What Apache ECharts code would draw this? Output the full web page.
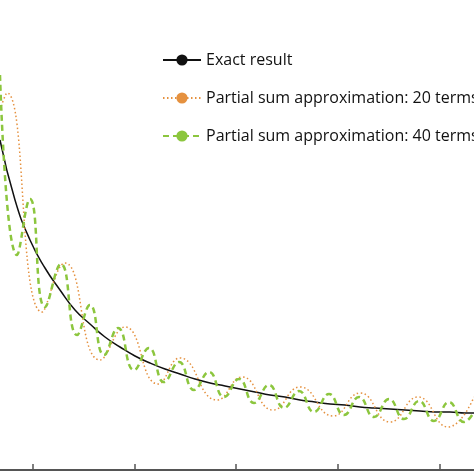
<!DOCTYPE html>
<html>
<head>
<meta charset="utf-8">
<script src="https://cdn.jsdelivr.net/npm/echarts@6/dist/echarts.min.js"></script>
<style>html,body{margin:0;padding:0;background:#fff}#chart{width:474px;height:474px}</style>
</head>
<body>
<div id="chart"></div>
<script>
var exactX = [0, 15, 30, 45, 60, 75, 90, 105, 120, 135, 150, 165, 180, 195, 210, 225, 240, 255, 270, 285, 300, 315, 330, 345, 360, 375, 390, 405, 420, 435, 450, 465, 474];
var exactY = [140, 200, 240, 268, 290, 310, 324, 337, 347, 356, 363, 369, 374, 379, 383, 386, 389, 392, 395, 397, 400, 402, 404, 405, 407, 408, 409, 410, 411, 412, 412, 413, 413];

var sum20X = [0, 7, 42, 65, 100, 125, 158, 180, 217, 242, 273, 300, 333, 360, 390, 418, 448, 474];
var sum20Y = [110, 93, 312, 263, 360, 327, 384, 358, 400, 377, 410, 387, 416, 393, 422, 397, 427, 397];

var sum40X = [0, 17, 30, 45, 61, 77, 90, 104, 118, 134, 149, 164, 179, 194, 209, 224, 239, 254, 269, 284, 299, 314, 329, 344, 359, 374, 389, 404, 419, 434, 449, 464, 474];
var sum40Y = [75, 255, 199, 307, 264, 335, 305, 355, 328, 370, 348, 382, 362, 390, 372, 397, 379, 403, 385, 408, 391, 412, 394, 415, 397, 417, 399, 419, 401, 421, 402, 422, 412];

var tickPos = [33, 135, 236, 338, 440];

function pairs(xs, ys) { return xs.map(function (x, i) { return [x, ys[i]]; }); }

var chart = echarts.init(document.getElementById('chart'));
chart.setOption({
  animation: false,
  grid: { left: 0, right: 0, top: 0, bottom: 4 },
  legend: {
    orient: 'vertical', left: 157, top: 47, itemGap: 22,
    itemWidth: 38, itemHeight: 14,
    textStyle: { fontFamily: 'Open Sans', fontSize: 16, color: '#111' },
    data: ['Exact result', 'Partial sum approximation: 20 terms', 'Partial sum approximation: 40 terms']
  },
  xAxis: {
    type: 'value', min: 0, max: 474, position: 'bottom',
    splitLine: { show: false },
    axisLabel: { show: false },
    axisLine: { onZero: false, lineStyle: { color: '#555', width: 2 } },
    axisTick: { inside: true, length: 6, customValues: tickPos, lineStyle: { color: '#555', width: 1.5 } }
  },
  yAxis: { type: 'value', min: 0, max: 470, inverse: true, show: false },
  series: [
    { name: 'Exact result', type: 'line', smooth: true, symbol: 'none', data: pairs(exactX, exactY),
      lineStyle: { color: '#111', width: 1.5 }, itemStyle: { color: '#111' }, z: 3 },
    { name: 'Partial sum approximation: 20 terms', type: 'line', smooth: true, symbol: 'none', data: pairs(sum20X, sum20Y),
      lineStyle: { color: '#E5913F', width: 1.5, type: [1.5, 2.5] }, itemStyle: { color: '#E5913F' } },
    { name: 'Partial sum approximation: 40 terms', type: 'line', smooth: true, symbol: 'none', data: pairs(sum40X, sum40Y),
      lineStyle: { color: '#8CC63E', width: 2.5, type: [6, 4] }, itemStyle: { color: '#8CC63E' } }
  ]
});
</script>
</body>
</html>
